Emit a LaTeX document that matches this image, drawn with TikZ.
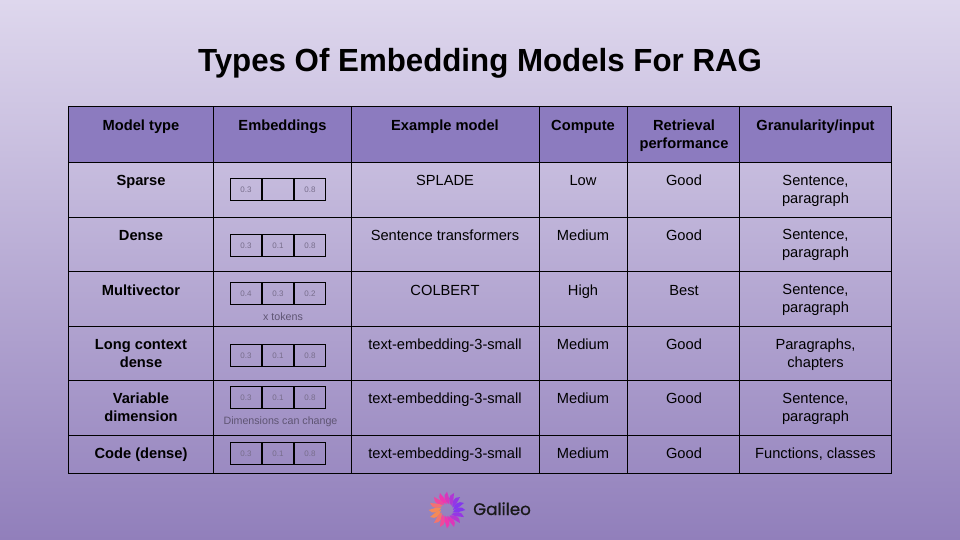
\documentclass[tikz,border=0pt]{standalone}
\usepackage{fontspec}
\setmainfont{Liberation Sans}
\newfontfamily\logofont[FakeBold=0.8]{Poppins}
\definecolor{bgtop}{RGB}{222,215,237}
\definecolor{bgbottom}{RGB}{145,127,187}
\definecolor{headfill}{RGB}{140,123,191}
\definecolor{tinygray}{RGB}{120,110,140}
\definecolor{notegray}{RGB}{95,85,115}
\definecolor{petalA}{RGB}{245,140,85}
\definecolor{petalB}{RGB}{238,55,175}
\definecolor{petalC}{RGB}{130,55,240}
\tikzset{
	cell/.style={anchor=north, yshift=12.6pt, align=center, font=\fontsize{14.67}{18}\selectfont, inner sep=0pt, execute at begin node=\strut},
	headcell/.style={cell, font=\fontsize{14.67}{18}\selectfont\bfseries},
	twoline/.style={yshift=-1.9pt},
	slot/.style={draw=black, line width=1pt, minimum width=31pt, minimum height=21.5pt, inner sep=0pt, outer sep=0pt, anchor=north west, text=tinygray, font=\fontsize{8}{10}\selectfont},
	note/.style={anchor=base, text=notegray, font=\fontsize{10.67}{12}\selectfont, inner sep=0pt},
	rule/.style={line width=1pt, color=black, line cap=rect}
}
% one row of three slots, top edge at #2
\def\embedbox[#1](#2)(#3:#4:#5){%
	\node[slot] (#1a) at (230.5, #2) {#3};
	\node[slot] (#1b) at (262.5, #2) {#4};
	\node[slot] (#1c) at (294.5, #2) {#5};
}

\begin{document}
\begin{tikzpicture}[x=1pt, y=-1pt]
	%%%%% START %%%%%
	\useasboundingbox (0, 0) rectangle (960, 540);
	\shade[top color=bgtop, bottom color=bgbottom] (0, 0) rectangle (960, 540);
	\fill[headfill] (68, 106) rectangle (891, 162);

	\node[anchor=base, xscale=0.977, font=\fontsize{32}{38}\selectfont\bfseries, inner sep=0pt] (title) at (480, 71.5) {Types Of Embedding Models For RAG};

	% grid
	\foreach \y in {106.5, 162.5, 217.5, 271.5, 326.5, 380.5, 435.5, 473.5}
		\draw[rule] (68.5, \y) -- (891.5, \y);
	\foreach \x in {68.5, 213.5, 351.5, 539.5, 627.5, 739.5, 891.5}
		\draw[rule] (\x, 106.5) -- (\x, 473.5);

	% header
	\node[headcell] (hType) at (141, 130.5) {Model type};
	\node[headcell] (hEmb) at (282.5, 130.5) {Embeddings};
	\node[headcell] (hExample) at (445, 130.5) {Example model};
	\node[headcell] (hCompute) at (583, 130.5) {Compute};
	\node[headcell, twoline] (hPerf) at (684, 130.5) {Retrieval\\performance};
	\node[headcell] (hInput) at (815.5, 130.5) {Granularity/input};

	% sparse
	\node[headcell] (r1Type) at (141, 185.5) {Sparse};
	\embedbox[r1](178.8)(0.3::0.8)
	\node[cell] (r1Example) at (445, 185.5) {SPLADE};
	\node[cell] (r1Compute) at (583, 185.5) {Low};
	\node[cell] (r1Perf) at (684, 185.5) {Good};
	\node[cell, twoline] (r1Input) at (815.5, 185.5) {Sentence,\\paragraph};

	% dense
	\node[headcell] (r2Type) at (141, 240) {Dense};
	\embedbox[r2](234.5)(0.3:0.1:0.8)
	\node[cell] (r2Example) at (445, 240) {Sentence transformers};
	\node[cell] (r2Compute) at (583, 240) {Medium};
	\node[cell] (r2Perf) at (684, 240) {Good};
	\node[cell, twoline] (r2Input) at (815.5, 240) {Sentence,\\paragraph};

	% multivector
	\node[headcell] (r3Type) at (141, 295) {Multivector};
	\embedbox[r3](282.5)(0.4:0.3:0.2)
	\node[note] (r3Note) at (283, 320) {x tokens};
	\node[cell] (r3Example) at (445, 295) {COLBERT};
	\node[cell] (r3Compute) at (583, 295) {High};
	\node[cell] (r3Perf) at (684, 295) {Best};
	\node[cell, twoline] (r3Input) at (815.5, 295) {Sentence,\\paragraph};

	% long context
	\node[headcell, twoline] (r4Type) at (141, 349.5) {Long context\\dense};
	\embedbox[r4](344.5)(0.3:0.1:0.8)
	\node[cell] (r4Example) at (445, 349.5) {text-embedding-3-small};
	\node[cell] (r4Compute) at (583, 349.5) {Medium};
	\node[cell] (r4Perf) at (684, 349.5) {Good};
	\node[cell, twoline] (r4Input) at (815.5, 349.5) {Paragraphs,\\chapters};

	% variable dimension
	\node[headcell, twoline] (r5Type) at (141, 403.5) {Variable\\dimension};
	\embedbox[r5](386.5)(0.3:0.1:0.8)
	\node[note] (r5Note) at (280.5, 424) {Dimensions can change};
	\node[cell] (r5Example) at (445, 403.5) {text-embedding-3-small};
	\node[cell] (r5Compute) at (583, 403.5) {Medium};
	\node[cell] (r5Perf) at (684, 403.5) {Good};
	\node[cell, twoline] (r5Input) at (815.5, 403.5) {Sentence,\\paragraph};

	% code
	\node[headcell] (r6Type) at (141, 458) {Code (dense)};
	\embedbox[r6](442.5)(0.3:0.1:0.8)
	\node[cell] (r6Example) at (445, 458) {text-embedding-3-small};
	\node[cell] (r6Compute) at (583, 458) {Medium};
	\node[cell] (r6Perf) at (684, 458) {Good};
	\node[cell] (r6Input) at (815.5, 458) {Functions, classes};

	% logo
	\foreach \i in {0,...,15} {
		\pgfmathsetmacro{\ang}{\i*22.5}
		\pgfmathsetmacro{\mixT}{100*(1-cos(\ang-170))}
		\pgfmathtruncatemacro{\mixA}{min(100, 1.8*\mixT)}
		\pgfmathtruncatemacro{\mixB}{max(0, \mixT-100)}
		\ifnum\mixB>0
			\colorlet{petal}{petalC!\mixB!petalB}
		\else
			\colorlet{petal}{petalB!\mixA!petalA}
		\fi
		\fill[petal, rotate around={\ang:(447, 510)}] (453, 510) .. controls (454, 505) and (458, 500) .. (464, 503) .. controls (461, 505) and (458, 509) .. (453, 510) -- cycle;
	}
	\node[anchor=base west, inner sep=0pt, text=black!90, font=\logofont\fontsize{16.7}{20}\selectfont] (logo) at (473, 515) {Galileo};
	%%%%% END %%%%%
\end{tikzpicture}
\end{document}
